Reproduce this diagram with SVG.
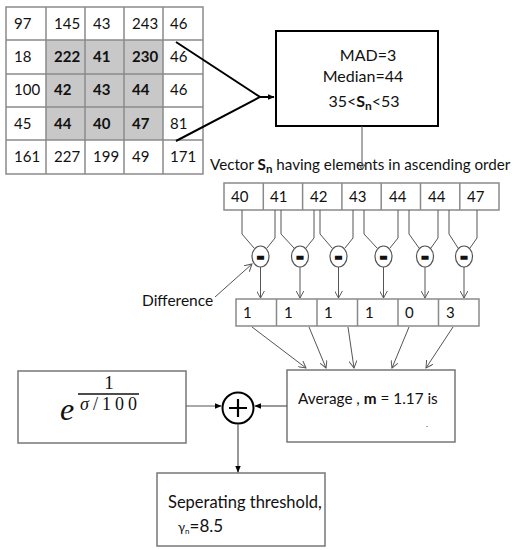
<svg xmlns="http://www.w3.org/2000/svg" width="528" height="550" viewBox="0 0 528 550">
<defs>
<style>
text{font-family:Lato,"Liberation Sans",Arial,sans-serif;fill:#111}
.g{font-size:15px}
.b{font-weight:bold}
.m{font-family:"Liberation Serif","DejaVu Serif",serif}
.cell{fill:none;stroke:#8a8a8a;stroke-width:1.5}
.box{fill:#fff;stroke:#777;stroke-width:1.5}
.thin{fill:none;stroke:#555;stroke-width:1}
.thick{fill:none;stroke:#000;stroke-width:2}
.minus{font-family:"DejaVu Sans",sans-serif;stroke:#111;stroke-width:1.6}
</style>
<marker id="open" viewBox="0 0 10 10" refX="9" refY="5" markerWidth="8" markerHeight="8" markerUnits="userSpaceOnUse" orient="auto">
<path d="M0,0 L9,5 L0,10" fill="none" stroke="#555" stroke-width="1.2"/>
</marker>
<marker id="solid" viewBox="0 0 10 10" refX="9" refY="5" markerWidth="7" markerHeight="7" markerUnits="userSpaceOnUse" orient="auto">
<path d="M0,1 L10,5 L0,9 z" fill="#000"/>
</marker>
</defs>
<rect width="528" height="550" fill="#fff"/>

<g id="grid">
<rect x="46" y="40" width="117" height="100" fill="#c8c8c8"/>
<rect class="cell" x="6" y="7" width="197" height="167"/>
<path class="cell" d="M46 7V174M85 7V174M124 7V174M163 7V174M6 40H203M6 74H203M6 107H203M6 140H203"/>
<g class="g">
<text x="14" y="29">97</text><text x="54" y="29">145</text><text x="93" y="29">43</text><text x="132" y="29">243</text><text x="170" y="29">46</text>
<text x="14" y="62">18</text><text x="54" y="62" class="b">222</text><text x="93" y="62" class="b">41</text><text x="132" y="62" class="b">230</text><text x="170" y="62">46</text>
<text x="14" y="95">100</text><text x="54" y="95" class="b">42</text><text x="93" y="95" class="b">43</text><text x="132" y="95" class="b">44</text><text x="170" y="95">46</text>
<text x="14" y="129">45</text><text x="54" y="129" class="b">44</text><text x="93" y="129" class="b">40</text><text x="132" y="129" class="b">47</text><text x="170" y="129">81</text>
<text x="14" y="162">161</text><text x="54" y="162">227</text><text x="93" y="162">199</text><text x="132" y="162">49</text><text x="170" y="162">171</text>
</g>
</g>

<g id="mad-box">
<rect x="276" y="31" width="162" height="95" fill="#fff" stroke="#000" stroke-width="2"/>
<text x="368" y="61" font-size="16" text-anchor="middle">MAD=3</text>
<text x="363" y="82" font-size="16" text-anchor="middle">Median=44</text>
<text x="364" y="107" font-size="16" text-anchor="middle">35&lt;<tspan font-weight="bold">S</tspan><tspan font-weight="bold" font-size="12" dy="3">n</tspan><tspan dy="-3">&lt;53</tspan></text>
</g>

<g id="vector-label">
<text x="210" y="170" font-size="15.2">Vector <tspan font-weight="bold">S</tspan><tspan font-weight="bold" font-size="11.5" dy="3">n</tspan><tspan dy="-3"> having elements in ascending order</tspan></text>
</g>

<g id="vector">
<rect class="cell" x="224" y="183" width="275" height="27"/>
<path class="cell" d="M263.3 183V210M302.6 183V210M341.9 183V210M381.2 183V210M420.5 183V210M459.8 183V210"/>
<g class="g">
<text x="231" y="202">40</text><text x="270" y="202">41</text><text x="310" y="202">42</text><text x="349" y="202">43</text><text x="389" y="202">44</text><text x="428" y="202">44</text><text x="467" y="202">47</text>
</g>
</g>

<g id="subtractors">
<g fill="#fff" stroke="#555" stroke-width="1.2">
<ellipse cx="260.5" cy="256.5" rx="8.5" ry="10.5"/>
<ellipse cx="300" cy="256.5" rx="8.5" ry="10.5"/>
<ellipse cx="338.5" cy="256.5" rx="8.5" ry="10.5"/>
<ellipse cx="383.5" cy="256.5" rx="8.5" ry="10.5"/>
<ellipse cx="425" cy="256.5" rx="8.5" ry="10.5"/>
<ellipse cx="464" cy="256.5" rx="8.5" ry="10.5"/>
</g>
<g font-size="18" font-weight="bold" text-anchor="middle" class="minus">
<text class="minus" x="260.5" y="263">-</text><text class="minus" x="300" y="263">-</text><text class="minus" x="338.5" y="263">-</text><text class="minus" x="383.5" y="263">-</text><text class="minus" x="425" y="263">-</text><text class="minus" x="464" y="263">-</text>
</g>
</g>

<g id="diff">
<rect class="cell" x="236" y="299" width="243" height="27"/>
<path class="cell" d="M276.5 299V326M317 299V326M357.5 299V326M398 299V326M438.5 299V326"/>
<g class="g">
<text x="243" y="318">1</text><text x="284" y="318">1</text><text x="324" y="318">1</text><text x="365" y="318">1</text><text x="405" y="318">0</text><text x="446" y="318">3</text>
</g>
</g>

<g id="difference-label">
<text x="142" y="306" font-size="15.5">Difference</text>
</g>

<g id="average-box">
<rect class="box" x="287" y="370" width="168" height="72"/>
<text x="298" y="404" font-size="15.3">Average , <tspan font-weight="bold">m</tspan> = 1.17 is</text>
<text x="426" y="427" font-size="8">.</text>
</g>

<g id="exp-box">
<rect class="box" x="18" y="371" width="168" height="72"/>
<text x="60" y="420" font-size="32" font-style="italic" class="m">e</text>
<text x="109" y="389" font-size="19" text-anchor="middle" class="m">1</text>
<line x1="78" y1="394" x2="139" y2="394" stroke="#111" stroke-width="1.3"/>
<text x="80" y="410" font-size="18" class="m" textLength="57" lengthAdjust="spacing"><tspan font-style="italic">σ</tspan>/100</text>
</g>

<g id="adder">
<circle cx="238" cy="408" r="15.5" fill="#fff" stroke="#000" stroke-width="2"/>
<path d="M229 408H247M238 399V417" stroke="#000" stroke-width="2.2"/>
</g>

<g id="threshold-box">
<rect class="box" x="157" y="473" width="168" height="73"/>
<text x="168" y="508" font-size="16.5">Seperating threshold,</text>
<text x="178" y="532" font-size="17"><tspan font-size="13">γ</tspan><tspan font-size="8" dy="2">n</tspan><tspan dy="-2">=8.5</tspan></text>
</g>

<g id="connectors">
<path class="thick" d="M176 42L260 97L176 141"/>
<path class="thick" d="M260 97H274" marker-end="url(#solid)"/>
<path class="thin" d="M362 126V170" marker-end="url(#open)"/>
<g class="thin">
<path d="M242 210V234L254 248M275 210V238L267 248"/>
<path d="M281 210V234L294 248M314 210V238L306 248"/>
<path d="M320 210V234L332 248M353 210V238L345 248"/>
<path d="M364 210V234L377 248M398 210V238L390 248"/>
<path d="M409 210V234L419 248M438 210V238L431 248"/>
<path d="M449 210V234L458 248M477 210V238L470 248"/>
</g>
<g class="thin" marker-end="url(#open)">
<path d="M260.5 267V298"/>
<path d="M300 267V298"/>
<path d="M338.5 267V298"/>
<path d="M383.5 267V298"/>
<path d="M425 267V298"/>
<path d="M464 267V298"/>
<path d="M215 297L252 264"/>
<path d="M252 327L306 368"/>
<path d="M309 327L326 368"/>
<path d="M348 327L354 368"/>
<path d="M409 327L392 368"/>
<path d="M453 327L426 368"/>
</g>
<path d="M186 406H221" fill="none" stroke="#555" stroke-width="1.2" marker-end="url(#solid)"/>
<path d="M287 406H255" fill="none" stroke="#555" stroke-width="1.2" marker-end="url(#solid)"/>
<path d="M238 424V472" fill="none" stroke="#555" stroke-width="1.2" marker-end="url(#solid)"/>
</g>
</svg>
